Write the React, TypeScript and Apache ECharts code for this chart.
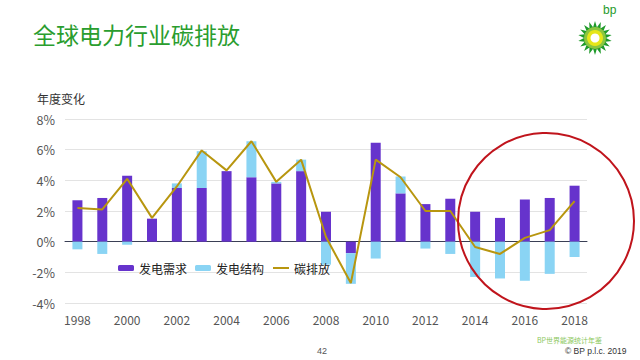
import React, { useEffect, useRef } from "react";
import * as echarts from "echarts";

const years = ["1998","1999","2000","2001","2002","2003","2004","2005","2006","2007","2008","2009","2010","2011","2012","2013","2014","2015","2016","2017","2018"];
const demand = [2.7, 2.85, 4.3, 1.5, 3.5, 3.5, 4.6, 4.2, 3.8, 4.6, 1.95, -0.75, 6.45, 3.15, 2.45, 2.8, 1.95, 1.55, 2.75, 2.85, 3.65];
const structure = [-0.5, -0.8, -0.2, 0, 0.3, 2.4, 0, 2.35, 0.1, 0.75, -1.5, -2.0, -1.1, 1.1, -0.45, -0.8, -2.3, -2.4, -2.55, -2.1, -1.0];
const emissions = [2.2, 2.1, 4.1, 1.55, 3.6, 5.95, 4.65, 6.55, 3.9, 5.35, 0.3, -2.7, 5.35, 4.2, 2.0, 2.0, -0.35, -0.8, 0.25, 0.75, 2.65];

const FONT = "'Noto Sans CJK SC', 'Liberation Sans', sans-serif";

function helios(cx: number, cy: number) {
  const pts: number[][] = [];
  const n = 18;
  for (let i = 0; i < n * 2; i++) {
    const a = (Math.PI * i) / n - Math.PI / 2;
    const r = i % 2 === 0 ? 17 : 11;
    pts.push([cx + r * Math.cos(a), cy + r * Math.sin(a)]);
  }
  return [
    { type: "polygon", shape: { points: pts }, style: { fill: "#1f9a2a" } },
    { type: "circle", shape: { cx, cy, r: 11 }, style: { fill: "#8cc63f" } },
    { type: "circle", shape: { cx, cy, r: 8 }, style: { fill: "#e6e619" } },
    { type: "circle", shape: { cx, cy, r: 4.5 }, style: { fill: "#ffffff" } },
  ];
}

export default function App() {
  const ref = useRef<HTMLDivElement>(null);
  useEffect(() => {
    const chart = echarts.init(ref.current!, null, { renderer: "svg" });
    chart.setOption({
      animation: false,
      backgroundColor: "#ffffff",
      textStyle: { fontFamily: FONT },
      grid: { left: 65, right: 53, top: 119, bottom: 57 },
      legend: {
        left: 113,
        top: 257,
        itemWidth: 16,
        itemHeight: 6,
        itemGap: 8,
        textStyle: { fontSize: 12, color: "#222", fontFamily: FONT },
        data: ["发电需求", "发电结构", { name: "碳排放", itemStyle: { opacity: 0 } }],
      },
      xAxis: {
        type: "category",
        data: years,
        boundaryGap: true,
        axisLine: { lineStyle: { color: "#3a3f55", width: 1 } },
        axisTick: { show: false },
        axisLabel: { interval: 1, fontSize: 12, color: "#555", margin: 10, fontFamily: FONT },
      },
      yAxis: {
        type: "value",
        min: -4,
        max: 8,
        interval: 2,
        axisLine: { show: false },
        axisTick: { show: false },
        axisLabel: { formatter: "{value}%", fontSize: 12.5, color: "#555", margin: 10, fontFamily: FONT },
        splitLine: { lineStyle: { color: "#e3e3e3" } },
      },
      series: [
        { name: "发电需求", type: "bar", stack: "a", data: demand, barWidth: 10, itemStyle: { color: "#6633cc" } },
        { name: "发电结构", type: "bar", stack: "a", data: structure, barWidth: 10, itemStyle: { color: "#8ad4f4" } },
        { name: "碳排放", type: "line", data: emissions, symbol: "none", lineStyle: { color: "#b8960f", width: 2 }, itemStyle: { color: "#b8960f" }, z: 5 },
      ],
      graphic: [
        { type: "text", left: 33, top: 22, style: { text: "全球电力行业碳排放", fontSize: 23, fill: "#2a9d2e", fontFamily: FONT } },
        { type: "text", left: 37, top: 92, style: { text: "年度变化", fontSize: 12, fill: "#333", fontFamily: FONT } },
        { type: "circle", shape: { cx: 546, cy: 221, r: 88 }, style: { fill: "none", stroke: "#c0141c", lineWidth: 2 }, z: 10 },
        ...helios(595, 38),
        { type: "text", left: 603, top: 4, style: { text: "bp", fontSize: 12, fill: "#1f9a2a", fontFamily: "'Liberation Sans', sans-serif" } },
        { type: "text", left: 537, top: 336, style: { text: "BP世界能源统计年鉴", fontSize: 7, fill: "#8cc860", fontFamily: FONT } },
        { type: "text", left: 565, top: 346, style: { text: "© BP p.l.c. 2019", fontSize: 8.5, fill: "#333", fontFamily: "'Liberation Sans', sans-serif" } },
        { type: "text", left: 317, top: 346, style: { text: "42", fontSize: 9, fill: "#555", fontFamily: "'Liberation Sans', sans-serif" } },
      ],
    });
    return () => chart.dispose();
  }, []);
  return <div ref={ref} style={{ width: 640, height: 360, position: "fixed", left: 0, top: 0 }} />;
}
